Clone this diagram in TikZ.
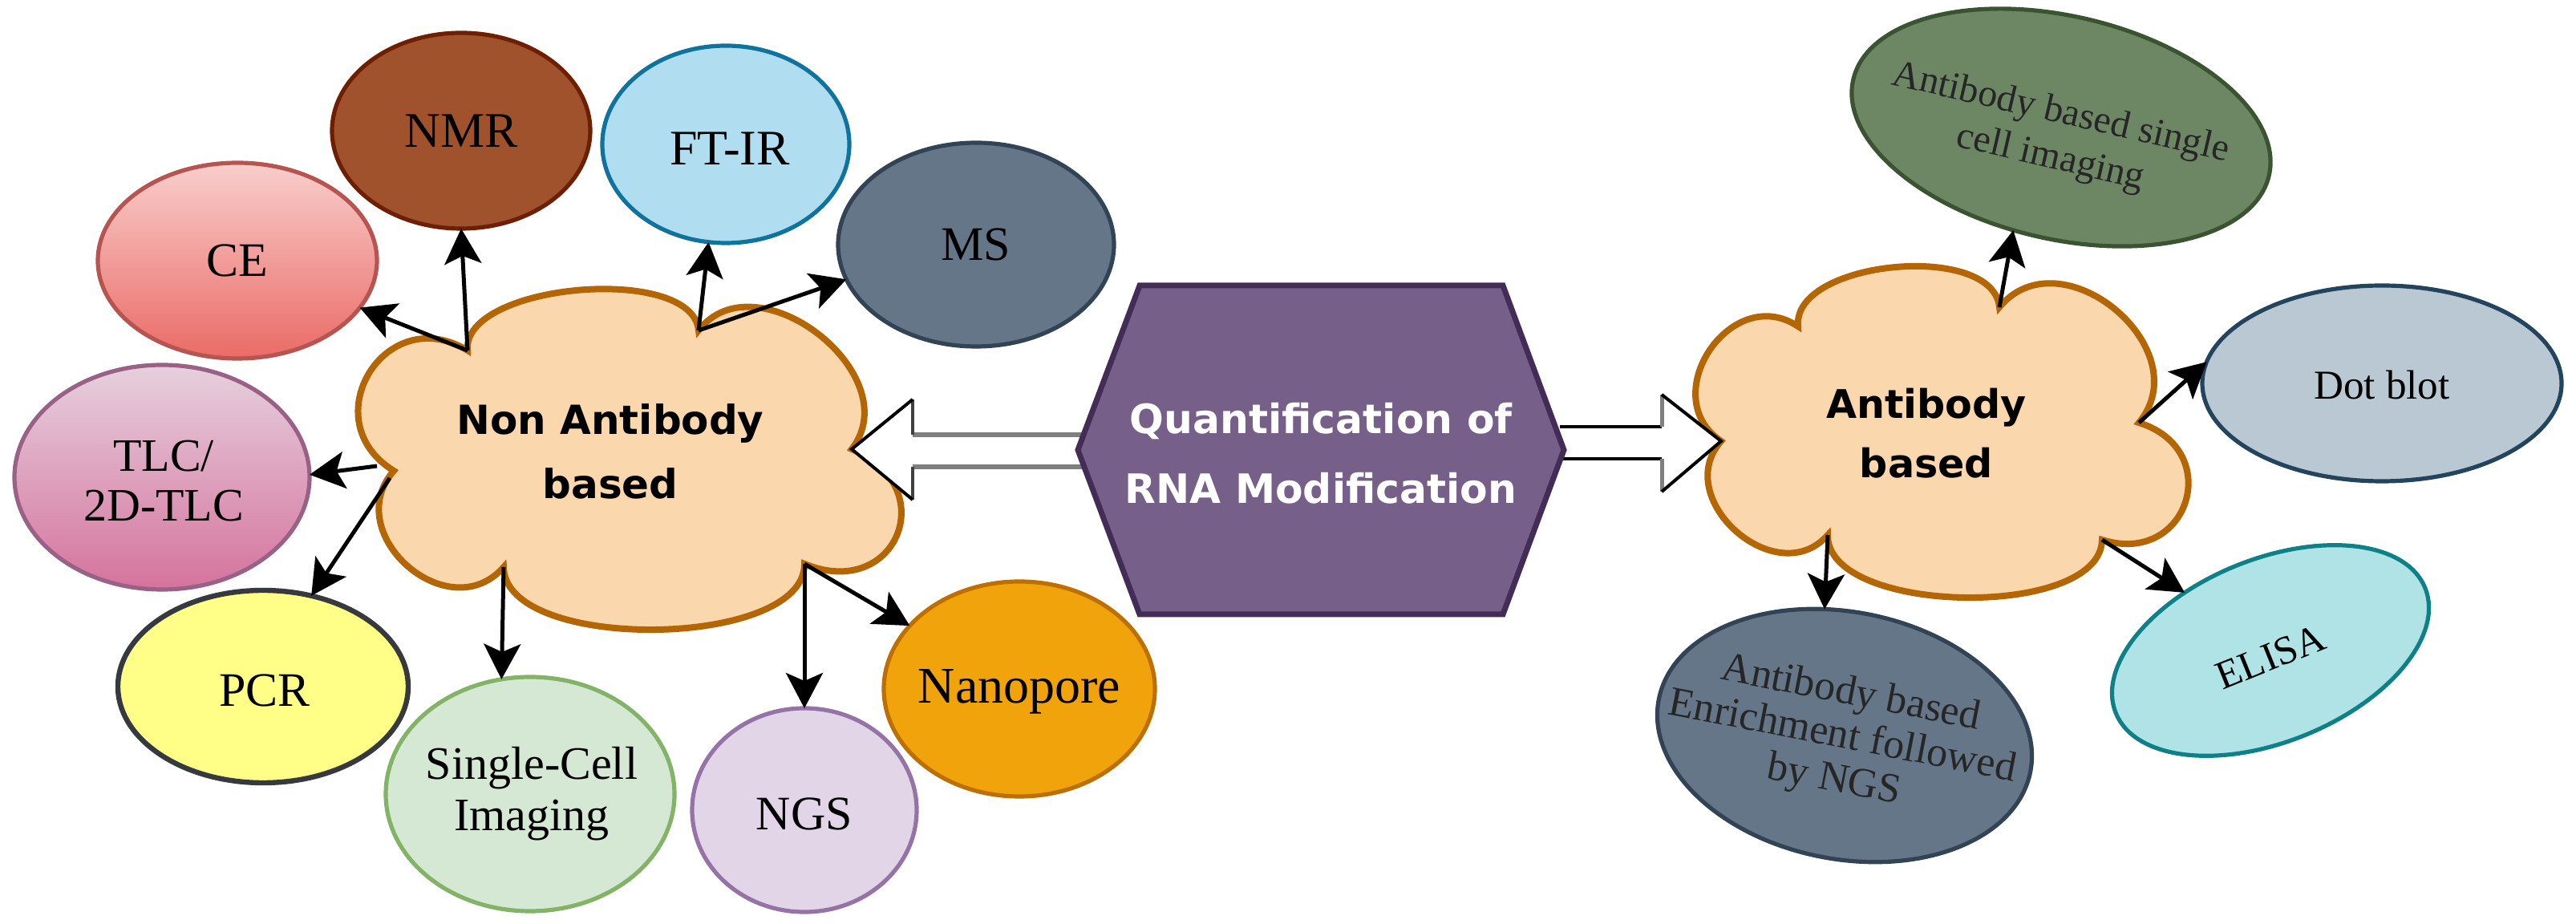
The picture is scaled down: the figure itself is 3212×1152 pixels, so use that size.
\documentclass[tikz,border=0pt]{standalone}
\usepackage{fontspec}
\setmainfont{Liberation Serif}
\newfontfamily\boldsans{DejaVu Sans}
\usetikzlibrary{shapes.geometric,arrows.meta}
\definecolor{ceT}{HTML}{F8CECC}\definecolor{ceB}{HTML}{EA6B66}\definecolor{ceL}{HTML}{B85450}
\definecolor{nmrF}{HTML}{A0522D}\definecolor{nmrL}{HTML}{6D1F00}
\definecolor{ftF}{HTML}{B1DDF0}\definecolor{ftL}{HTML}{10739E}
\definecolor{msF}{HTML}{647687}\definecolor{msL}{HTML}{314354}
\definecolor{tlcT}{HTML}{E6D0DE}\definecolor{tlcB}{HTML}{D5739D}\definecolor{tlcL}{HTML}{996185}
\definecolor{pcrF}{HTML}{FFFF88}\definecolor{pcrL}{HTML}{36393D}
\definecolor{sciF}{HTML}{D5E8D4}\definecolor{sciL}{HTML}{82B366}
\definecolor{ngsF}{HTML}{E1D5E7}\definecolor{ngsL}{HTML}{9673A6}
\definecolor{nanoF}{HTML}{F0A30A}\definecolor{nanoL}{HTML}{BD7000}
\definecolor{hexF}{HTML}{76608A}\definecolor{hexL}{HTML}{432D57}
\definecolor{cloudF}{HTML}{FAD7AC}\definecolor{cloudL}{HTML}{B46504}
\definecolor{grnF}{HTML}{6D8764}\definecolor{grnL}{HTML}{3A5431}
\definecolor{dotF}{HTML}{BAC8D3}\definecolor{dotL}{HTML}{23445D}
\definecolor{elF}{HTML}{B0E3E6}\definecolor{elL}{HTML}{0E8088}
\definecolor{shaftgray}{HTML}{7F7F7F}
\begin{document}
\begin{tikzpicture}[x=0.25pt,y=-0.25pt,
  ell/.style={ellipse, draw, line width=1.3pt, inner sep=0pt, outer sep=0pt},
  lbl/.style={align=center, inner sep=0pt, text=black},
  arr/.style={line width=1.25pt, -{Stealth[length=11pt,width=11.5pt,inset=2.5pt]}},
  blob/.style={draw=cloudL, fill=cloudF, line width=2pt, line join=miter, miter limit=4},
  ctext/.style={align=center, inner sep=0pt}
]
\fill[white] (0,0) rectangle (3212,1152);
\useasboundingbox (0,0) rectangle (3212,1152);

% connector start points (notches of the clouds)
\coordinate (a1) at (583,437);
\coordinate (a2) at (871,412);
\coordinate (a3) at (470,581);
\coordinate (a4) at (486,596);
\coordinate (a5) at (628,707);
\coordinate (a6) at (1003,703);
\coordinate (n3) at (1062,560);
\coordinate (n6) at (491,587);
\coordinate (b1) at (2493,383);
\coordinate (b2) at (2667,527);
\coordinate (b3) at (2279,667);
\coordinate (b4) at (2621,673);
\coordinate (m5) at (2146,550);
\coordinate (m6) at (2242,407);

% clouds
\path[blob] (n6) .. controls (388.8,524.2) and (480.8,374.2) .. (a1)
  .. controls (575.7,353.3) and (863.7,328.3) .. (a2)
  .. controls (942.8,319.3) and (1133.8,467.3) .. (n3)
  .. controls (1176.6,607.2) and (1117.6,750.2) .. (a6)
  .. controls (1004.1,809.7) and (629.1,813.7) .. (a5)
  .. controls (559.5,785.3) and (422.5,665.3) .. (n6) -- cycle;
\node[ctext, font=\boldsans\bfseries\fontsize{12.5}{20}\selectfont] (nab) at (761,563) {Non Antibody\\based};

\path[blob] (m6) .. controls (2234.1,324.6) and (2485.1,300.6) .. (b1)
  .. controls (2569.4,290.6) and (2743.4,434.6) .. (b2)
  .. controls (2775.1,561) and (2729.1,707) .. (b4)
  .. controls (2619.3,773) and (2277.3,767) .. (b3)
  .. controls (2215.5,739.1) and (2082.5,622.1) .. (m5)
  .. controls (2062.9,494.2) and (2158.9,351.2) .. (m6) -- cycle;
\node[ctext, font=\boldsans\bfseries\fontsize{12.3}{18.5}\selectfont] (ab) at (2402,540) {Antibody\\based};

% left group ellipses
\node[ell, top color=ceT, bottom color=ceB, draw=ceL, minimum width=87pt, minimum height=61pt] (ce) at (296,325) {};
\node[lbl, font=\fontsize{15}{16}\selectfont] (ce-t) at (ce) {CE};
\node[ell, fill=nmrF, draw=nmrL, minimum width=80.5pt, minimum height=61pt] (nmr) at (575,163) {};
\node[lbl, font=\fontsize{15.5}{16}\selectfont] (nmr-t) at (nmr) {NMR};
\node[ell, fill=ftF, draw=ftL, minimum width=77pt, minimum height=61.5pt] (ftir) at (905,180) {};
\node[lbl, font=\fontsize{15.5}{16}\selectfont] (ftir-t) at (910,185) {FT-IR};
\node[ell, fill=msF, draw=msL, minimum width=86pt, minimum height=63.5pt] (ms) at (1217,305) {};
\node[lbl, font=\fontsize{15}{16}\selectfont] (ms-t) at (ms) {MS};
\node[ell, top color=tlcT, bottom color=tlcB, draw=tlcL, minimum width=92pt, minimum height=70pt] (tlc) at (202,595) {};
\node[lbl, font=\fontsize{14.5}{15.5}\selectfont] (tlc-t) at (204,600) {TLC/\\2D-TLC};
\node[ell, fill=pcrF, draw=pcrL, line width=1.6pt, minimum width=90.5pt, minimum height=60pt] (pcr) at (328,856) {};
\node[lbl, font=\fontsize{15}{16}\selectfont] (pcr-t) at (330,861) {PCR};
\node[ell, fill=sciF, draw=sciL, minimum width=90pt, minimum height=73pt] (sci) at (661,990) {};
\node[lbl, font=\fontsize{14.5}{16}\selectfont] (sci-t) at (663,990) {Single-Cell\\Imaging};
\node[ell, fill=ngsF, draw=ngsL, minimum width=70pt, minimum height=63.5pt] (ngs) at (1003,1010) {};
\node[lbl, font=\fontsize{15}{16}\selectfont] (ngs-t) at (1003,1015) {NGS};
\node[ell, fill=nanoF, draw=nanoL, minimum width=84.5pt, minimum height=67pt] (nano) at (1271,859) {};
\node[lbl, font=\fontsize{16}{16}\selectfont] (nano-t) at (1271,862) {Nanopore};

% right group ellipses
\node[ell, fill=grnF, draw=grnL, rotate=-13, minimum width=133pt, minimum height=69.5pt] (grn) at (2570,159) {};
\node[lbl, rotate=-13, text=black!85, font=\fontsize{12}{14.3}\selectfont] (grn-t) at (2563,170) {Antibody based single\\cell imaging};
\node[ell, fill=dotF, draw=dotL, minimum width=112pt, minimum height=61pt] (dot) at (2970,478) {};
\node[lbl, font=\fontsize{12.8}{14}\selectfont] (dot-t) at (2970,480) {Dot blot};
\node[ell, fill=msF, draw=msL, rotate=-11, minimum width=118pt, minimum height=77pt] (enr) at (2300,917) {};
\node[lbl, rotate=-11, text=black!85, font=\fontsize{13}{13.75}\selectfont] (enr-t) at (2297,920) {Antibody based\\Enrichment followed\\by NGS};
\node[ell, fill=elF, draw=elL, rotate=22, minimum width=104pt, minimum height=57pt] (elisa) at (2831,811) {};
\node[lbl, rotate=22, font=\fontsize{12.5}{14}\selectfont] (elisa-t) at (2831,819) {ELISA};

% connectors
\draw[arr] (a1) -- (nmr.270);
\draw[arr] (a1) -- (ce.-21);
\draw[arr] (a2) -- (ftir.-100);
\draw[arr] (a2) -- (ms.195);
\draw[arr] (a3) -- (tlc.1);
\draw[arr] (a4) -- (pcr.62);
\draw[arr] (a5) -- (sci.104);
\draw[arr] (a6) -- (ngs.90);
\draw[arr] (a6) -- (nano.150);
\draw[arr] (b1) -- (grn.-102.5);
\draw[arr] (b2) -- (dot.173);
\draw[arr] (b3) -- (enr.110);
\draw[arr] (b4) -- (elisa.124.6);

% big open arrows
\fill[white] (n3) -- (1138,498) -- (1138,542) -- (1352,542) -- (1352,582) -- (1138,582) -- (1138,623) -- cycle;
\draw[shaftgray, line width=1.5pt] (1138,542) -- (1352,542) (1138,582) -- (1352,582);
\draw[black!75, line width=1pt] (1138,498) -- (1138,542) (1138,582) -- (1138,623);
\draw[black, line width=1pt, line join=miter] (1138,498) -- (n3) -- (1138,623);

\fill[white] (m5) -- (2072,492) -- (2072,532) -- (1945,532) -- (1945,572) -- (2072,572) -- (2072,613) -- cycle;
\draw[black, line width=1pt] (1945,532) -- (2072,532) (1945,572) -- (2072,572);
\draw[shaftgray, line width=1.25pt] (2072,492) -- (2072,532) (2072,572) -- (2072,613);
\draw[black, line width=1pt, line join=miter] (2072,492) -- (m5) -- (2072,613);

% central hexagon
\draw[draw=hexL, fill=hexF, line width=1.75pt, line join=miter] (1421,356) -- (1874,356) -- (1950,561) -- (1874,766) -- (1421,766) -- (1344,561) -- cycle;
\node[ctext, text=white, font=\boldsans\bfseries\fontsize{12.6}{21.75}\selectfont] (hex) at (1647,565) {Quantification of\\RNA Modification};
\end{tikzpicture}
\end{document}
